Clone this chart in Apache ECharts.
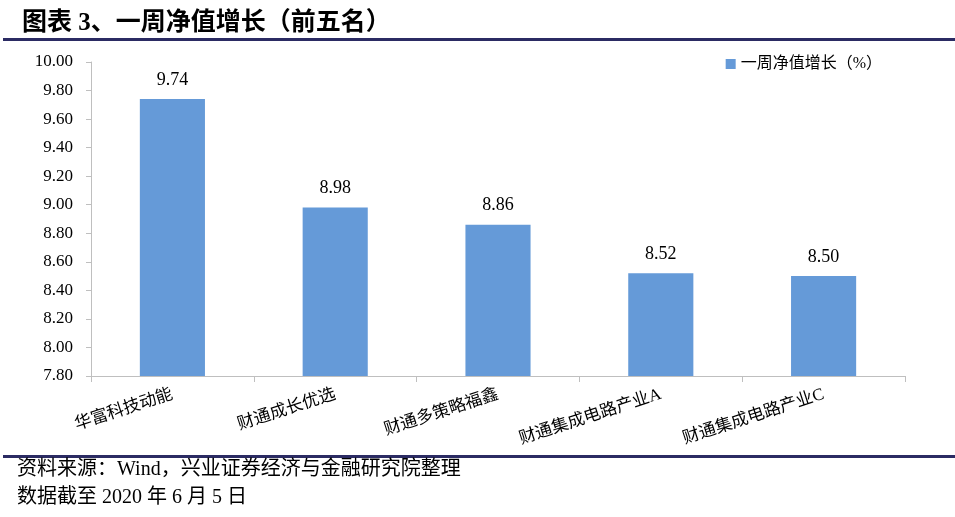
<!DOCTYPE html>
<html>
<head>
<meta charset="utf-8">
<script src="https://cdn.jsdelivr.net/npm/echarts@6/dist/echarts.min.js"></script>
<style>
  html, body { margin: 0; padding: 0; background: #fff; }
  #chart { width: 955px; height: 517px; }
</style>
</head>
<body>
<div id="chart"></div>
<script>
var categories = ["华富科技动能", "财通成长优选", "财通多策略福鑫", "财通集成电路产业A", "财通集成电路产业C"];
var weekGrowth = [9.74, 8.98, 8.86, 8.52, 8.50];
var seriesName = "一周净值增长（%）";
var yMin = 7.8, yMax = 10, yStep = 0.2;

var font = '"Liberation Serif", "Noto Sans CJK SC", serif';
var lineColor = "#2b2b63";

var myChart = echarts.init(document.getElementById("chart"));
var option = {
  animation: false,
  title: {
    text: "图表 3、一周净值增长（前五名）",
    left: 17,
    top: 6,
    textStyle: { fontFamily: font, fontSize: 25, fontWeight: "bold", color: "#000" }
  },
  legend: {
    data: [seriesName],
    right: 68,
    top: 51,
    itemWidth: 10,
    itemHeight: 10,
    icon: "rect",
    itemGap: 4,
    textStyle: { fontFamily: font, fontSize: 16, color: "#000" }
  },
  grid: { left: 91, right: 50, top: 62, bottom: 141 },
  xAxis: {
    type: "category",
    data: categories,
    axisLine: { lineStyle: { color: "#bfbfbf" } },
    axisTick: { show: true, alignWithLabel: false, length: 6, lineStyle: { color: "#bfbfbf" } },
    axisLabel: { rotate: 18, margin: 18, fontFamily: font, fontSize: 17, color: "#000" }
  },
  yAxis: {
    type: "value",
    min: yMin,
    max: yMax,
    interval: yStep,
    splitLine: { show: false },
    axisLine: { show: true, lineStyle: { color: "#bfbfbf" } },
    axisTick: { show: true, length: 5, lineStyle: { color: "#bfbfbf" } },
    axisLabel: {
      margin: 18,
      fontFamily: font,
      fontSize: 17,
      color: "#000",
      formatter: function (v) { return v.toFixed(2); }
    }
  },
  series: [
    {
      name: seriesName,
      type: "bar",
      data: weekGrowth,
      barWidth: "40%",
      itemStyle: { color: "#659ad8" },
      label: {
        show: true,
        position: "top",
        distance: 10,
        fontFamily: font,
        fontSize: 18,
        color: "#000",
        formatter: function (p) { return p.value.toFixed(2); }
      }
    }
  ],
  graphic: [
    { type: "rect", shape: { x: 3, y: 38, width: 952, height: 3 }, style: { fill: lineColor } },
    { type: "rect", shape: { x: 3, y: 455, width: 952, height: 3 }, style: { fill: lineColor } },
    {
      type: "text", left: 17, top: 460,
      style: { text: "资料来源：Wind，兴业证券经济与金融研究院整理", font: '20px "Liberation Serif", "Noto Sans CJK SC", serif', fill: "#000" }
    },
    {
      type: "text", left: 17, top: 488,
      style: { text: "数据截至 2020 年 6 月 5 日", font: '20px "Liberation Serif", "Noto Sans CJK SC", serif', fill: "#000" }
    }
  ]
};
myChart.setOption(option);
</script>
</body>
</html>
